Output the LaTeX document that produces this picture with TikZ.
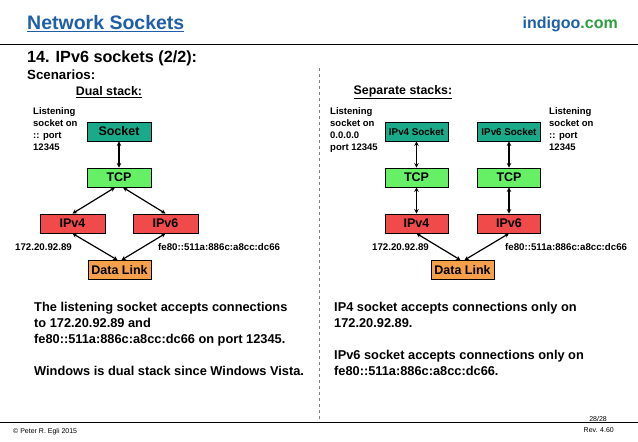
\documentclass[tikz,border=0pt]{standalone}
\usepackage{fontspec}
\setmainfont{Liberation Sans}
\usetikzlibrary{arrows.meta}
\definecolor{ttl}{HTML}{1F5FA8}
\definecolor{grn}{HTML}{2E9E3E}
\definecolor{sock}{HTML}{1AAA8A}
\definecolor{tcp}{HTML}{66F066}
\definecolor{ip}{HTML}{F04A4A}
\definecolor{dl}{HTML}{F5A04A}
\begin{document}
\begin{tikzpicture}[x=1pt,y=-1pt,
 box/.style={draw=black,line width=0.9pt,minimum height=19pt,inner sep=0pt,font=\fontsize{12.5}{14}\bfseries},
 lbl/.style={font=\fontsize{9.5}{12}\bfseries,align=left,inner sep=0pt},
 ipl/.style={font=\fontsize{9.7}{12}\bfseries,inner sep=0pt,anchor=west},
 arr/.style={{Stealth[length=4.5pt,width=4.5pt]}-{Stealth[length=4.5pt,width=4.5pt]},line width=1.2pt},
 body/.style={font=\fontsize{12.8}{16}\bfseries,align=left,inner sep=0pt,anchor=north west}]
\useasboundingbox (0,0) rectangle (638,442);
\fill[white] (0,0) rectangle (638,442);
% header
\node[anchor=west,inner sep=0pt,text=ttl,font=\fontsize{19.5}{22}\bfseries] (title) at (27,24) {\underline{Network Sockets}};
\node[anchor=east,inner sep=0pt,font=\fontsize{16}{18}\bfseries] (logo) at (618,24) {\textcolor{ttl}{indigoo}\textcolor{grn}{.com}};
\draw[line width=0.8pt] (0,44) -- (638,44);
\node[anchor=west,inner sep=0pt,font=\fontsize{16.2}{18}\bfseries] (h) at (27,58) {14. IPv6 sockets (2/2):};
\node[anchor=west,inner sep=0pt,font=\fontsize{13.3}{15}\bfseries] (sc) at (27,75) {Scenarios:};
\draw[gray,dashed,line width=0.6pt] (319,68) -- (319,420);
% left
\node[inner sep=0pt,font=\fontsize{12.4}{14}\bfseries] (ds) at (109,92) {\underline{Dual stack:}};
\node[box,fill=sock,minimum width=64pt] (s1) at (119,131.5) {Socket};
\node[box,fill=tcp,minimum width=64pt] (t1) at (119,177.5) {TCP};
\node[box,fill=ip,minimum width=65pt] (a1) at (72.5,223.5) {IPv4};
\node[box,fill=ip,minimum width=65pt] (b1) at (165.5,223.5) {IPv6};
\node[box,fill=dl,minimum width=63pt] (d1) at (119.5,270) {Data Link};
\node[lbl,anchor=north west] (l1) at (33,107) {Listening\\socket on\\:: port\\12345};
\node[ipl] (ip1) at (15,247) {172.20.92.89};
\node[ipl] (ip2) at (158,247) {fe80::511a:886c:a8cc:dc66};
\draw[arr] (s1.south) -- (t1.north);
\draw[arr] ([xshift=-4pt]t1.south) -- (a1.north);
\draw[arr] ([xshift=4pt]t1.south) -- (b1.north);
\draw[arr] (a1.south) -- ([xshift=-2pt]d1.north);
\draw[arr] (b1.south) -- ([xshift=2pt]d1.north);
% right
\node[inner sep=0pt,font=\fontsize{12.4}{14}\bfseries] (ss) at (403,92) {\underline{Separate stacks:}};
\node[box,fill=sock,minimum width=63pt,font=\fontsize{9.8}{12}\bfseries] (s2) at (416.5,131.5) {IPv4 Socket};
\node[box,fill=sock,minimum width=63pt,font=\fontsize{9.8}{12}\bfseries] (s3) at (509,131.5) {IPv6 Socket};
\node[box,fill=tcp,minimum width=63pt] (t2) at (416.5,177.5) {TCP};
\node[box,fill=tcp,minimum width=63pt] (t3) at (509,177.5) {TCP};
\node[box,fill=ip,minimum width=63pt] (a2) at (416.5,223.5) {IPv4};
\node[box,fill=ip,minimum width=63pt] (b2) at (509,223.5) {IPv6};
\node[box,fill=dl,minimum width=63pt] (d2) at (462.5,270) {Data Link};
\node[lbl,anchor=north west] (l2) at (330,107) {Listening\\socket on\\0.0.0.0\\port 12345};
\node[lbl,anchor=north west] (l3) at (549,107) {Listening\\socket on\\:: port\\12345};
\node[ipl] (ip3) at (372,247) {172.20.92.89};
\node[ipl] (ip4) at (505,247) {fe80::511a:886c:a8cc:dc66};
\draw[arr] (s2.south) -- (t2.north);
\draw[arr] (s3.south) -- (t3.north);
\draw[arr] (t2.south) -- (a2.north);
\draw[arr] (t3.south) -- (b2.north);
\draw[arr] (a2.south) -- ([xshift=-2pt]d2.north);
\draw[arr] (b2.south) -- ([xshift=2pt]d2.north);
% body texts
\node[body] (p1) at (34,302) {The listening socket accepts connections\\to 172.20.92.89 and\\fe80::511a:886c:a8cc:dc66 on port 12345.\\[16pt]Windows is dual stack since Windows Vista.};
\node[body] (p2) at (334,302) {IP4 socket accepts connections only on\\172.20.92.89.\\[16pt]IPv6 socket accepts connections only on\\fe80::511a:886c:a8cc:dc66.};
% footer
\draw[line width=0.7pt] (0,422) -- (638,422);
\node[anchor=west,inner sep=0pt,font=\fontsize{7}{9}\selectfont] (c) at (13,432) {© Peter R. Egli 2015};
\node[anchor=north east,inner sep=0pt,align=right,font=\fontsize{7}{11}\selectfont] (pg) at (614,416) {28/28\hspace*{7pt}\\Rev. 4.60};
\end{tikzpicture}
\end{document}
